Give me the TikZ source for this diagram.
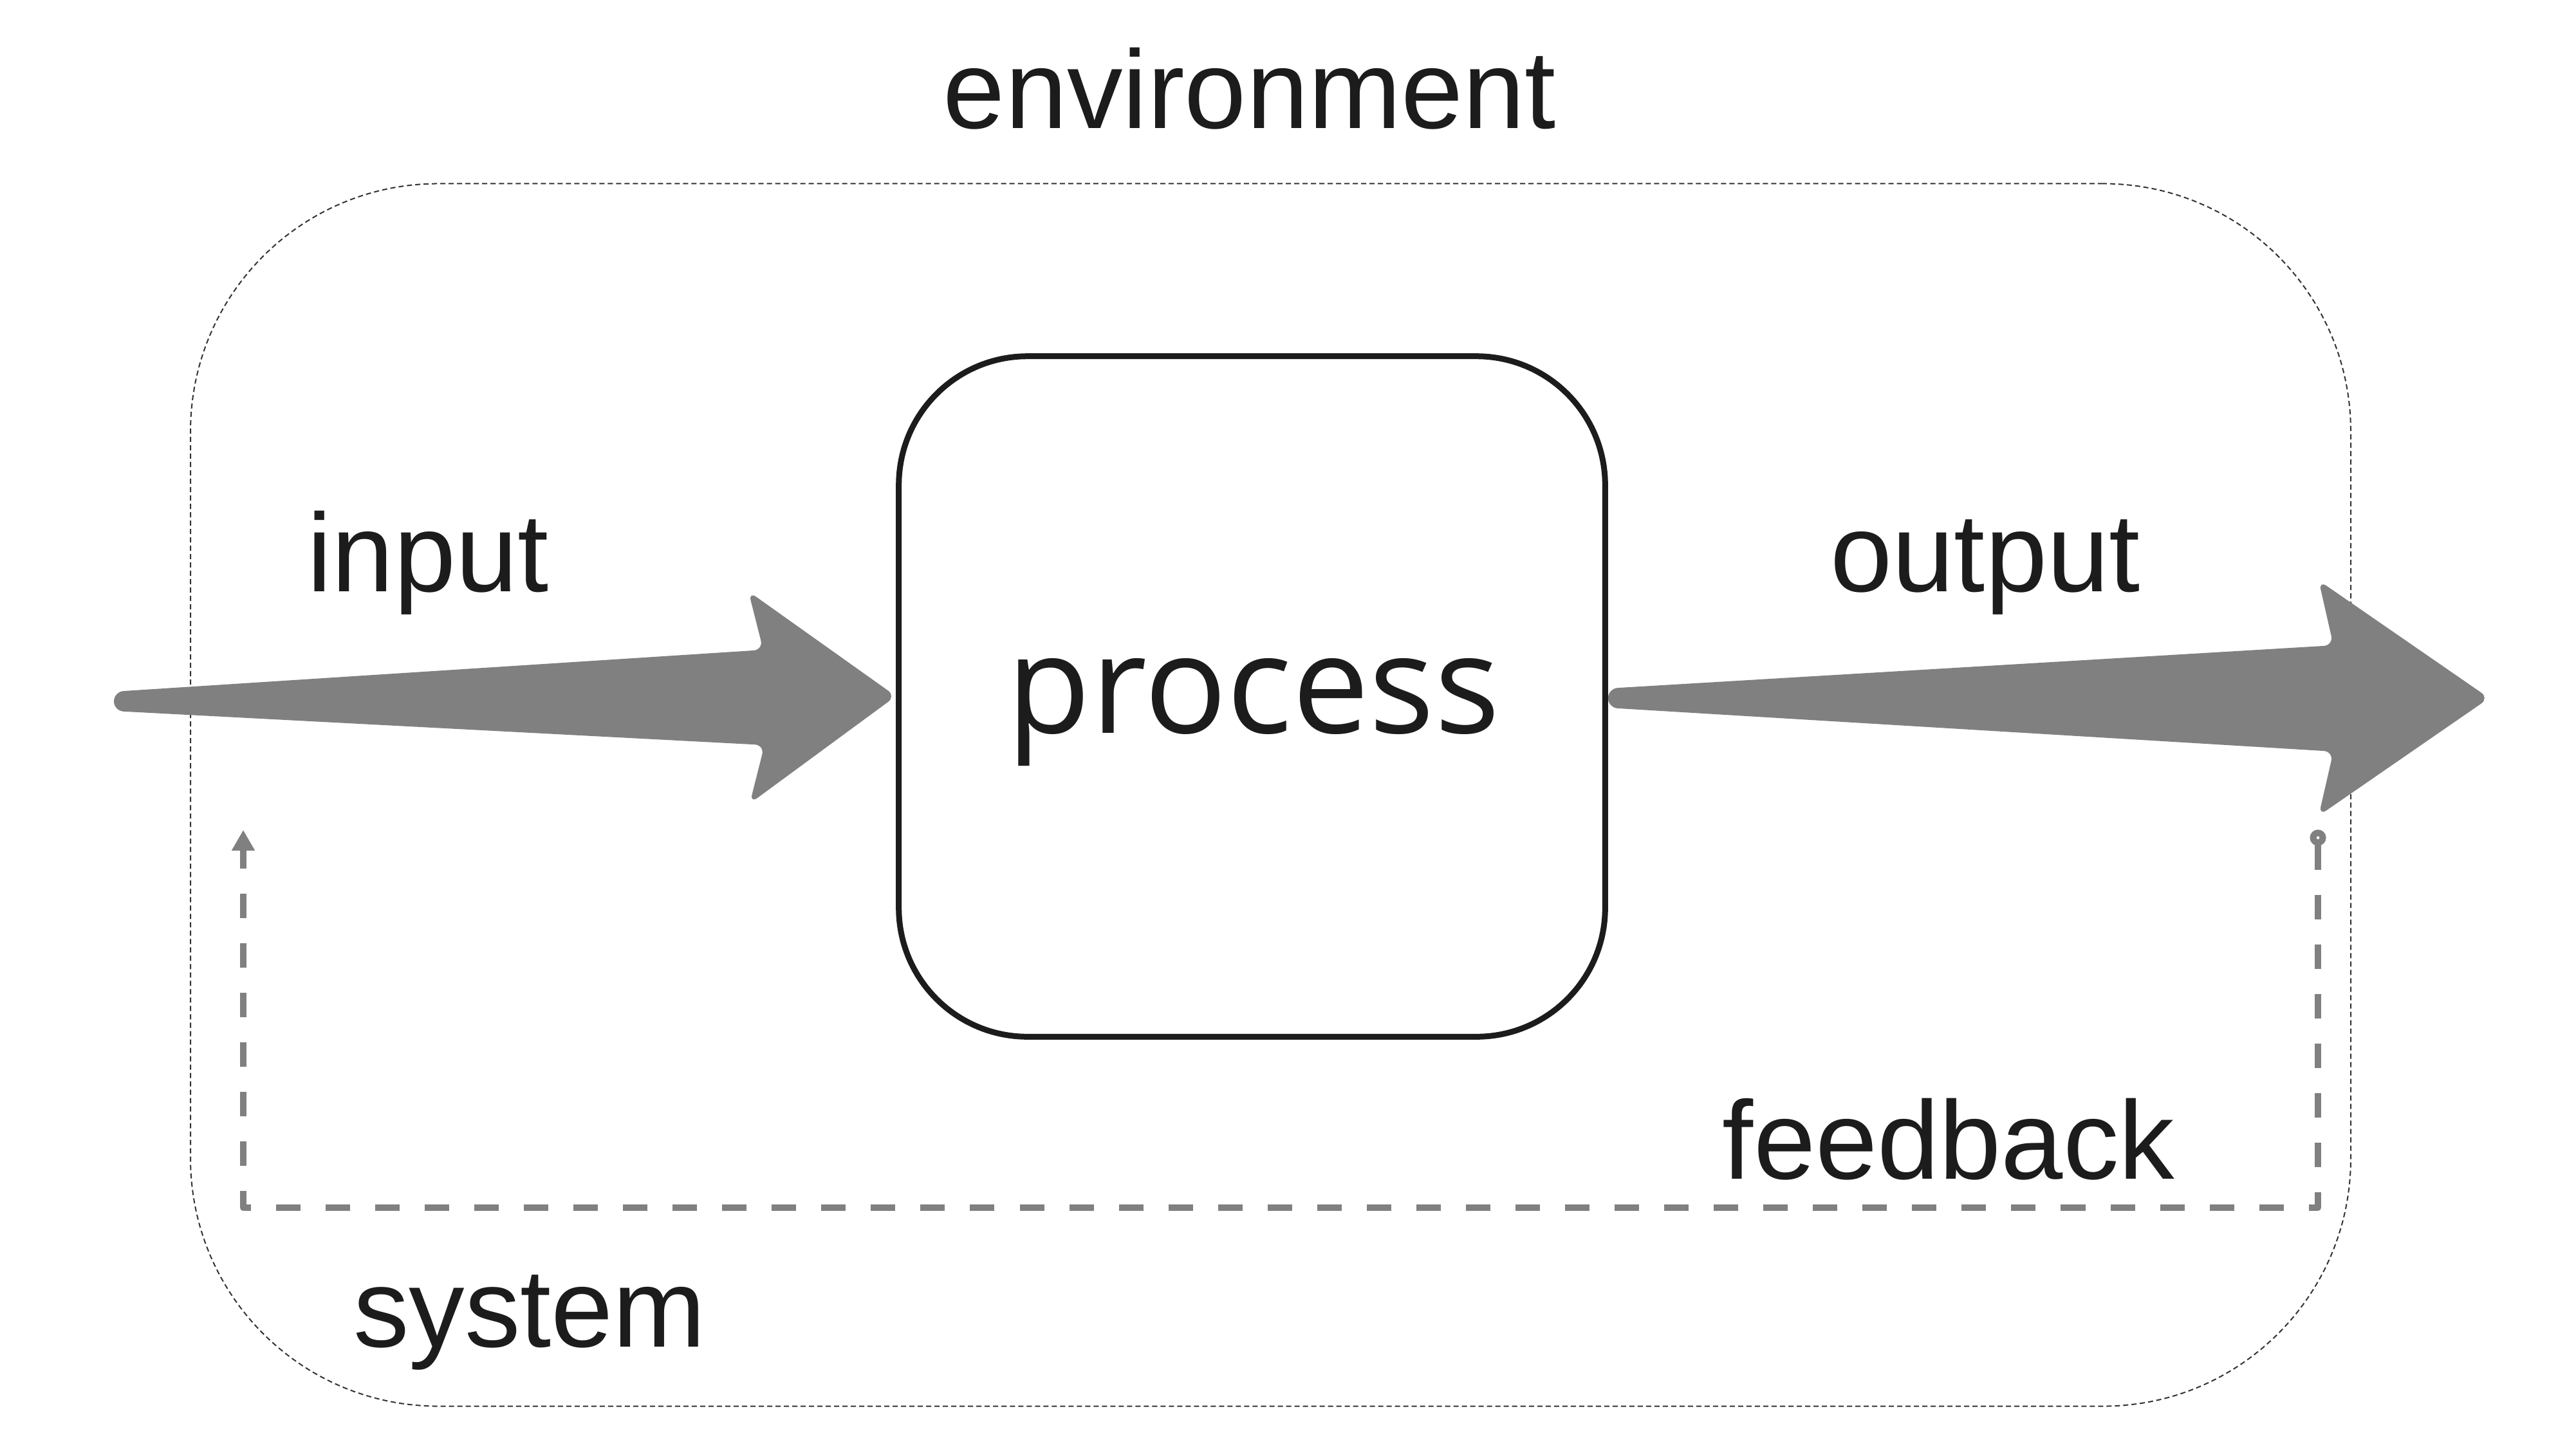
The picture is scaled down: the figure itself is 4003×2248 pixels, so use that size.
\documentclass[tikz,border=0pt]{standalone}
\usepackage{fontspec}
\setmainfont{Liberation Sans}
\newfontfamily\procfont{Open Sans}
\usetikzlibrary{arrows.meta}
\definecolor{ink}{HTML}{1C1C1C}
\definecolor{arrowgray}{HTML}{808080}
\definecolor{bordergray}{HTML}{333333}
\begin{document}
\begin{tikzpicture}[x=0.01cm,y=-0.01cm,
  labeltext/.style={text=ink, font=\fontsize{49.2}{56}\selectfont, inner sep=0pt, anchor=base},
  systembox/.style={draw=bordergray, line width=0.02cm, dash pattern=on 0.08cm off 0.05cm,
    rounded corners=3.85cm, inner sep=0pt},
  processbox/.style={draw=ink, line width=0.09cm, rounded corners=2cm, inner sep=0pt, fill=white},
  bigarrow/.style={fill=arrowgray, rounded corners=0.15cm},
  fbline/.style={draw=arrowgray, line width=0.1cm, dash pattern=on 0.38cm off 0.39cm, line join=round}
]
\useasboundingbox (0,0) rectangle (4003,2248);

% system boundary
\node[systembox, minimum width=33.55cm, minimum height=18.99cm] (system) at (1974.5,1235.5) {};

% process box
\node[processbox, minimum width=10.97cm, minimum height=10.57cm] (proc) at (1945.5,1082.5) {};
\node[text=ink, font=\procfont\fontsize{60.6}{68}\selectfont, inner sep=0pt, anchor=base] (proctext) at (1948,1139) {process};

% input arrow
\coordinate (intail) at (177,1090);
\fill[bigarrow] (177,1075) -- (1186,1010) -- (1163,919) -- (proc.west |- 0,1082) -- (1165,1249) -- (1188,1158) -- (177,1105) -- cycle;

% output arrow
\coordinate (outtip) at (3868,1085);
\fill[bigarrow] (proc.east |- 0,1070) -- (3626,1003) -- (3603,902) -- (outtip) -- (3603,1268) -- (3626,1168) -- (proc.east |- 0,1100) -- cycle;

% feedback
\coordinate (fbstart) at (3602,1302);
\coordinate (fbend) at (378,1290);
\draw[arrowgray, line width=0.1cm] (fbstart) circle (7.5);
\draw[fbline, -{Triangle[length=0.32cm,width=0.34cm]}] (3602,1314) -- (3602,1877) -- (378,1877) -- (fbend);

% labels
\node[labeltext] (envlabel) at (1942,199) {environment};
\node[labeltext] (inlabel) at (665,919) {input};
\node[labeltext] (outlabel) at (3085,919) {output};
\node[labeltext] (fblabel) at (3028,1832) {feedback};
\node[labeltext] (syslabel) at (823,2093) {system};
\end{tikzpicture}
\end{document}
